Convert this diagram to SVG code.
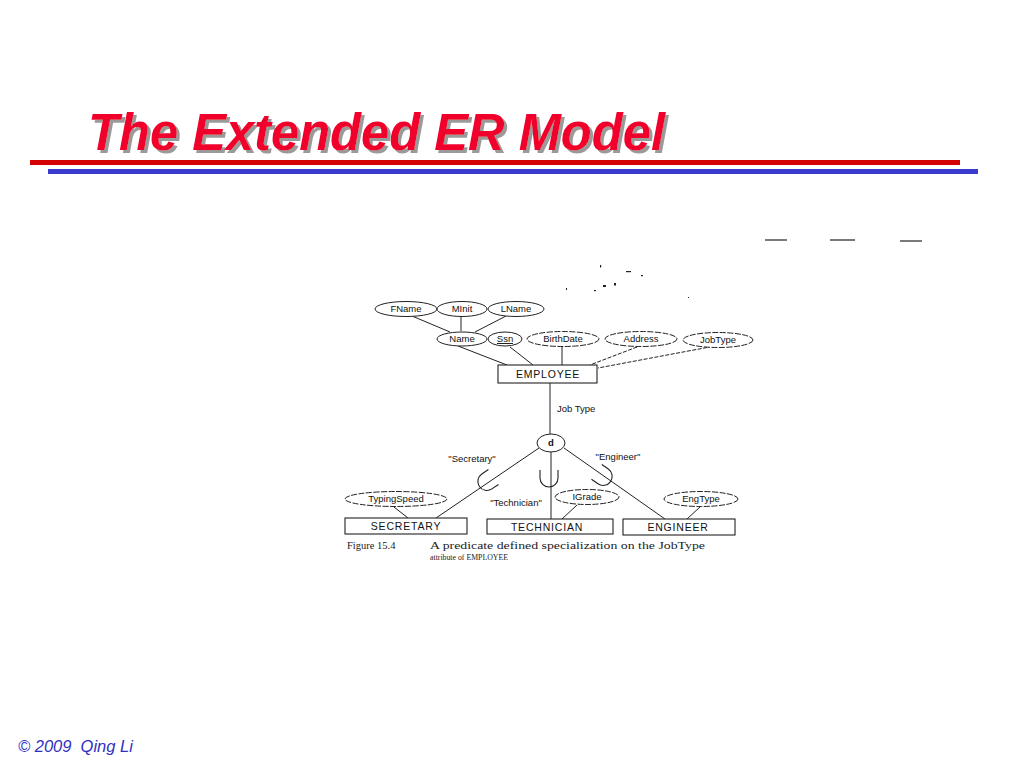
<svg xmlns="http://www.w3.org/2000/svg" width="1024" height="768" viewBox="0 0 1024 768">
<defs>
<style>
.ttl{font-family:"Liberation Sans",Arial,sans-serif;font-weight:bold;font-style:italic;font-size:51px}
.lbl{font-family:"Liberation Sans",Arial,sans-serif;font-size:9.5px;fill:#111;text-anchor:middle}
.ent{font-family:"Liberation Sans",Arial,sans-serif;font-size:10.5px;fill:#111;text-anchor:middle;letter-spacing:0.8px}
.cap{font-family:"Liberation Serif","Times New Roman",serif;font-size:10.5px;fill:#222}
.el{fill:#fff;stroke:#222;stroke-width:1}
.eld{fill:#fff;stroke:#222;stroke-width:1;stroke-dasharray:6,1.5}
.box{fill:#fff;stroke:#222;stroke-width:1.1}
.ln{stroke:#222;stroke-width:1;fill:none}
.lnd{stroke:#222;stroke-width:1;fill:none;stroke-dasharray:4,1.5}
.sub{stroke:#222;stroke-width:1.1;fill:none}
</style>
<filter id="shadow" x="-5%" y="-20%" width="110%" height="140%">
<feOffset in="SourceAlpha" dx="3" dy="3" result="o"/>
<feFlood flood-color="#9a9a9a"/>
<feComposite in2="o" operator="in" result="s"/>
<feMerge><feMergeNode in="s"/><feMergeNode in="SourceGraphic"/></feMerge>
</filter>
</defs>
<rect width="1024" height="768" fill="#fff"/>

<!-- title -->
<text class="ttl" x="88" y="150" fill="#f0002c" filter="url(#shadow)" textLength="577" lengthAdjust="spacingAndGlyphs">The Extended ER Model</text>
<rect x="30" y="160" width="930" height="5" fill="#d40000"/>
<rect x="48" y="169" width="930" height="5" fill="#3a3acc"/>

<!-- stray marks -->
<g stroke="#222" stroke-width="1.2">
<line x1="765" y1="240" x2="787" y2="240"/>
<line x1="830" y1="240" x2="855" y2="240"/>
<line x1="900" y1="241" x2="922" y2="241"/>
</g>
<g fill="#222">
<rect x="600" y="265" width="1.2" height="2.5"/>
<rect x="626" y="271" width="5" height="1.2"/>
<rect x="641" y="275" width="2" height="1.2"/>
<rect x="566" y="288" width="1" height="2"/>
<rect x="594" y="290" width="2" height="1.2"/>
<rect x="603" y="285" width="3" height="2"/>
<rect x="614" y="283" width="2" height="2.5"/>
<rect x="688" y="297" width="1" height="1"/>
</g>

<!-- connectors -->
<g id="connectors">
<line class="ln" x1="412" y1="316" x2="450" y2="332"/>
<line class="ln" x1="461" y1="316.5" x2="461" y2="331"/>
<line class="ln" x1="506" y1="316" x2="475" y2="332"/>
<line class="ln" x1="458" y1="346" x2="507" y2="365"/>
<line class="ln" x1="510" y1="347" x2="533" y2="365"/>
<line class="ln" x1="562" y1="347" x2="562" y2="365"/>
<line class="lnd" x1="637" y1="347" x2="590" y2="365"/>
<line class="lnd" x1="707" y1="347.5" x2="598" y2="368"/>
<line class="ln" x1="550" y1="383" x2="550" y2="434"/>
<line class="ln" x1="539" y1="448" x2="436" y2="518"/>
<line class="ln" x1="551" y1="452" x2="551" y2="519"/>
<line class="ln" x1="564" y1="448" x2="665" y2="519"/>
<line class="ln" x1="394" y1="507" x2="408" y2="518"/>
<line class="ln" x1="577" y1="505" x2="562" y2="519"/>
<line class="ln" x1="700" y1="507" x2="687" y2="519"/>
<!-- subset symbols -->
<path class="sub" d="M -9,-9 L -9,-1 A 9,9 0 0 0 9,-1 L 9,-9" transform="translate(486,482) rotate(56)"/>
<path class="sub" d="M -9,-9 L -9,-1 A 9,9 0 0 0 9,-1 L 9,-9" transform="translate(549,479)"/>
<path class="sub" d="M -9,-9 L -9,-1 A 9,9 0 0 0 9,-1 L 9,-9" transform="translate(604,477) rotate(-55)"/>
<text class="lbl" x="557" y="412" style="text-anchor:start">Job Type</text>
<text class="lbl" x="472" y="462">"Secretary"</text>
<text class="lbl" x="618" y="460">"Engineer"</text>
<text class="lbl" x="516" y="506">"Technician"</text>
</g>

<!-- attribute nodes -->
<g id="FName"><ellipse class="el" cx="406" cy="309" rx="31" ry="7.5"/><text class="lbl" x="406" y="312">FName</text></g>
<g id="MInit"><ellipse class="el" cx="462" cy="309" rx="25" ry="7.5"/><text class="lbl" x="462" y="312">MInit</text></g>
<g id="LName"><ellipse class="el" cx="516" cy="309" rx="28" ry="7.5"/><text class="lbl" x="516" y="312">LName</text></g>
<g id="Name"><ellipse class="el" cx="462" cy="339" rx="25" ry="7"/><text class="lbl" x="462" y="342">Name</text></g>
<g id="Ssn"><ellipse class="el" cx="505" cy="339" rx="17" ry="7"/><text class="lbl" x="505" y="342">Ssn</text><line class="ln" x1="497" y1="343.5" x2="513" y2="343.5"/></g>
<g id="BirthDate"><ellipse class="eld" cx="563" cy="339" rx="36" ry="7.5"/><text class="lbl" x="563" y="342">BirthDate</text></g>
<g id="Address"><ellipse class="eld" cx="641" cy="339" rx="36" ry="7.5"/><text class="lbl" x="641" y="342">Address</text></g>
<g id="JobType"><ellipse class="eld" cx="718" cy="340" rx="35" ry="7.5"/><text class="lbl" x="718" y="343">JobType</text></g>
<g id="TypingSpeed"><ellipse class="eld" cx="396" cy="499" rx="51" ry="7.5"/><text class="lbl" x="396" y="502">TypingSpeed</text></g>
<g id="IGrade"><ellipse class="eld" cx="587" cy="497" rx="32" ry="7.5"/><text class="lbl" x="587" y="500">IGrade</text></g>
<g id="EngType"><ellipse class="eld" cx="701" cy="499" rx="37" ry="7.5"/><text class="lbl" x="701" y="502">EngType</text></g>

<!-- entity nodes -->
<g id="EMPLOYEE"><rect class="box" x="498" y="365" width="99" height="18"/><text class="ent" x="548" y="378">EMPLOYEE</text></g>
<g id="d"><ellipse class="el" cx="551" cy="443" rx="14" ry="9"/><text class="lbl" x="551" y="446" style="font-weight:bold">d</text></g>
<g id="SECRETARY"><rect class="box" x="345" y="518" width="122" height="16"/><text class="ent" x="406" y="530">SECRETARY</text></g>
<g id="TECHNICIAN"><rect class="box" x="487" y="519" width="126" height="15"/><text class="ent" x="547" y="531">TECHNICIAN</text></g>
<g id="ENGINEER"><rect class="box" x="623" y="519" width="112" height="16"/><text class="ent" x="678" y="531">ENGINEER</text></g>

<!-- caption -->
<text class="cap" x="347" y="549">Figure 15.4</text>
<text class="cap" x="430" y="549" textLength="275" lengthAdjust="spacingAndGlyphs">A predicate defined specialization on the JobType</text>
<text class="cap" x="430" y="560" style="font-size:9px" textLength="78" lengthAdjust="spacingAndGlyphs">attribute of EMPLOYEE</text>

<!-- footer -->
<text x="18" y="752" font-family="'Liberation Sans',Arial,sans-serif" font-style="italic" font-size="16.5" fill="#3030c0" xml:space="preserve">© 2009  Qing Li</text>
</svg>
